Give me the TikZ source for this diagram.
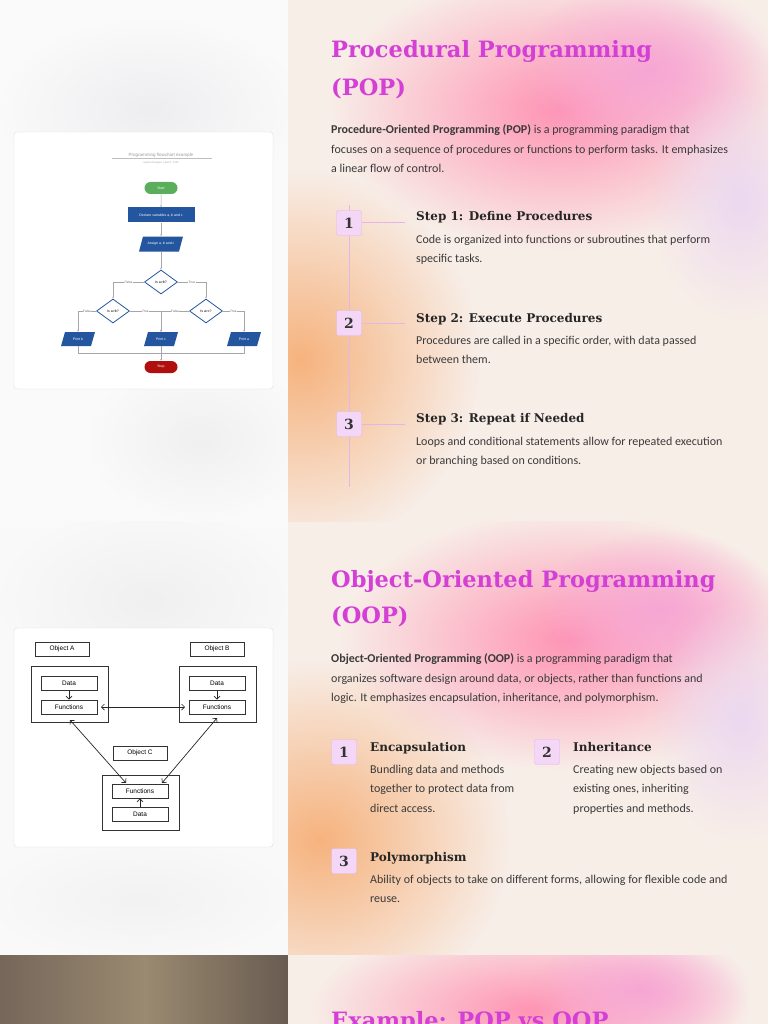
\documentclass[tikz,border=0pt]{standalone}
\usepackage{fontspec}
\setmainfont{Carlito}
\newfontfamily\hd{DejaVu Serif}
\newfontfamily\fl{Liberation Sans}
\usetikzlibrary{fadings,shapes.geometric,shapes.misc,arrows.meta}
\tikzfading[name=softblob, inner color=transparent!0, outer color=transparent!100]
\definecolor{bgc}{HTML}{F8EEE8}
\definecolor{blobpink}{HTML}{FF94B4}
\definecolor{blobmag}{HTML}{F7A6D4}
\definecolor{bloborange}{HTML}{F6B37E}
\definecolor{bloblav}{HTML}{ECD8F0}
\definecolor{ttl}{HTML}{D43FD6}
\definecolor{txt}{HTML}{3A3A3A}
\definecolor{numfill}{HTML}{F4D7F6}
\definecolor{numdraw}{HTML}{E3B5E8}
\definecolor{fblue}{HTML}{23569E}
\definecolor{fgreen}{HTML}{5BAE5B}
\definecolor{fred}{HTML}{B10E0E}
\definecolor{brA}{HTML}{75665A}
\definecolor{brB}{HTML}{9A8A70}
\tikzset{
 blob/.style={fill=#1, path fading=softblob},
 title/.style={anchor=base west, inner sep=0, text=ttl, font=\hd\bfseries\fontsize{22.5}{26}\selectfont},
 para/.style={anchor=north west, inner sep=0, text=txt, font=\fontsize{12}{19.5}\selectfont, align=left},
 stt/.style={anchor=base west, inner sep=0, text=black!85, font=\hd\bfseries\fontsize{12}{14}\selectfont},
 num/.style={draw=numdraw, fill=numfill, rounded corners=2pt, minimum size=25pt, inner sep=0, font=\hd\bfseries\fontsize{14}{16}\selectfont, text=black!80},
 tl/.style={draw=numdraw, line width=1pt},
 fbox/.style={draw=none, fill=fblue, text=white, font=\fl\fontsize{3.5}{4}\selectfont, inner sep=0},
 ftxt/.style={text=white, font=\fl\fontsize{3.5}{4}\selectfont, inner sep=0},
 fline/.style={draw=gray!70, line width=0.5pt, -{Stealth[length=2pt]}},
 flab/.style={font=\fl\fontsize{3.2}{4}\selectfont, text=gray!80!black, fill=white, inner sep=0.5pt},
 obox/.style={draw=black!80, line width=0.7pt, font=\fl\fontsize{6.5}{8}\selectfont, inner sep=0},
 oarr/.style={draw=black!85, line width=0.7pt, {Straight Barb[length=3pt]}-{Straight Barb[length=3pt]}},
}
% parallelogram fill: centre x, centre y, half width, half height
\newcommand\pgram[4]{\fill[fblue] (#1-#3-2,#2+#4) -- (#1+#3-2,#2+#4) -- (#1+#3+2,#2-#4) -- (#1-#3+2,#2-#4) -- cycle;}
\begin{document}
\begin{tikzpicture}[x=1pt,y=-1pt]
\useasboundingbox (0,0) rectangle (768,1024);
% ---------- backgrounds
\fill[white!96!gray] (0,0) rectangle (288,521);
\fill[white!95!gray] (0,521) rectangle (288,955);
\fill[bgc] (288,0) rectangle (768,955);
\begin{scope}
\clip (0,0) rectangle (288,521);
\fill[blob=blue!10!gray!12] (150,110) ellipse (150 and 90);
\fill[blob=gray!12] (200,440) ellipse (110 and 80);
\end{scope}
\begin{scope}
\clip (0,521) rectangle (288,955);
\fill[blob=gray!12] (150,600) ellipse (150 and 90);
\fill[blob=gray!10] (140,900) ellipse (150 and 60);
\end{scope}
\begin{scope}
\clip (288,0) rectangle (768,521);
\fill[blob=bloborange] (300,360) ellipse (180 and 190);
\fill[blob=blobpink] (560,110) ellipse (230 and 140);
\fill[blob=blobmag] (650,70) ellipse (130 and 90);
\fill[blob=bloblav] (740,200) ellipse (90 and 120);
\end{scope}
\begin{scope}
\clip (288,521) rectangle (768,955);
\fill[blob=bloborange] (320,840) ellipse (190 and 180);
\fill[blob=blobpink] (570,640) ellipse (230 and 130);
\fill[blob=blobmag] (660,610) ellipse (120 and 80);
\fill[blob=bloblav] (740,720) ellipse (90 and 120);
\end{scope}
\shade[left color=brA, right color=brA!90!black, middle color=brB] (0,955) rectangle (288,1024);
\begin{scope}
\clip (288,955) rectangle (768,1024);
\fill[bgc] (288,955) rectangle (768,1024);
\fill[blob=blobpink] (530,1010) ellipse (220 and 90);
\fill[blob=blobmag] (640,990) ellipse (110 and 60);
\end{scope}

% ---------- section 1 text
\node[title] (t1a) at (331,58) {Procedural Programming};
\node[title] (t1b) at (331,96) {(POP)};
\node[para] (p1) at (331,124.5) {\textbf{Procedure-Oriented Programming (POP)} is a programming paradigm that\\focuses on a sequence of procedures or functions to perform tasks. It emphasizes\\a linear flow of control.};
\coordinate (tlA) at (349,205);
\coordinate (tlB) at (349,487);
\draw[tl] (tlA) -- (tlB);
\node[num] (n1) at (349,223) {1};
\node[num] (n2) at (349,323) {2};
\node[num] (n3) at (349,424) {3};
\coordinate (h1) at (405,223);\coordinate (h2) at (405,323);\coordinate (h3) at (405,424);
\draw[tl] (n1.east) -- (h1); \draw[tl] (n2.east) -- (h2); \draw[tl] (n3.east) -- (h3);
\node[stt] (s1) at (416,221) {Step 1: Define Procedures};
\node[para] (d1) at (416,234.5) {Code is organized into functions or subroutines that perform\\specific tasks.};
\node[stt] (s2) at (416,322) {Step 2: Execute Procedures};
\node[para] (d2) at (416,335.5) {Procedures are called in a specific order, with data passed\\between them.};
\node[stt] (s3) at (416,422) {Step 3: Repeat if Needed};
\node[para] (d3) at (416,436.5) {Loops and conditional statements allow for repeated execution\\or branching based on conditions.};

% ---------- flowchart card
\node[draw=gray!25, fill=white, rounded corners=3pt, minimum width=259pt, minimum height=257pt, inner sep=0] (card1) at (143.5,260.5) {};
\node[font=\fl\fontsize{4.5}{5}\selectfont, text=gray!80] (ftitle) at (161,155) {Programming flowchart example};
\draw[gray!50, line width=0.4pt] (112,158.5) -- (212,158.5);
\node[font=\fl\fontsize{2.5}{3}\selectfont, text=gray!70] (fsub) at (161,162.5) {System Designer \textbar\ April 1, 2024};
\node[fbox, fill=fgreen, rounded rectangle, minimum width=33pt, minimum height=12pt] (start) at (161,188) {Start};
\node[fbox, minimum width=67pt, minimum height=15pt] (decl) at (161,215) {Declare variables a, b and c};
\pgram{161}{244}{20}{7.5}
\node[ftxt, minimum width=40pt, minimum height=15pt] (assign) at (161,244) {Assign a, b and c};
\node[diamond, draw=fblue, line width=0.8pt, fill=white, minimum width=33pt, minimum height=24pt, inner sep=0, font=\fl\fontsize{3.5}{4}\selectfont] (d0) at (161,282) {Is a>b?};
\node[diamond, draw=fblue, line width=0.8pt, fill=white, minimum width=33pt, minimum height=24pt, inner sep=0, font=\fl\fontsize{3.5}{4}\selectfont] (dl) at (113,311) {Is a>b?};
\node[diamond, draw=fblue, line width=0.8pt, fill=white, minimum width=33pt, minimum height=24pt, inner sep=0, font=\fl\fontsize{3.5}{4}\selectfont] (dr) at (206,311) {Is a>c?};
\pgram{78}{339}{15}{7}
\pgram{161}{339}{15}{7}
\pgram{244}{339}{15}{7}
\node[ftxt, minimum width=30pt, minimum height=14pt] (pb) at (78,339) {Print b};
\node[ftxt, minimum width=30pt, minimum height=14pt] (pc) at (161,339) {Print c};
\node[ftxt, minimum width=30pt, minimum height=14pt] (pa) at (244,339) {Print a};
\node[fbox, fill=fred, rounded rectangle, minimum width=33pt, minimum height=12pt] (stop) at (161,367) {Stop};
\draw[fline] (start) -- (decl);
\draw[fline] (decl) -- (assign);
\draw[fline] (assign) -- (d0);
\draw[fline] (d0.west) -| node[flab, pos=0.25]{False} (dl.north);
\draw[fline] (d0.east) -| node[flab, pos=0.25]{True} (dr.north);
\draw[fline] (dl.west) -| node[flab, pos=0.25]{False} (pb.north);
\draw[fline] (dl.east) -| node[flab, pos=0.25]{True} (pc.north);
\draw[fline] (dr.west) -| node[flab, pos=0.25]{False} (pc.north);
\draw[fline] (dr.east) -| node[flab, pos=0.25]{True} (pa.north);
\coordinate (jn) at (161,353);
\draw[gray!70, line width=0.5pt] (pb.south) |- (jn);
\draw[gray!70, line width=0.5pt] (pa.south) |- (jn);
\draw[fline] (pc.south) -- (stop.north);

% ---------- section 2 text
\node[title] (t2a) at (331,587) {Object-Oriented Programming};
\node[title] (t2b) at (331,623) {(OOP)};
\node[para] (p2) at (331,653.5) {\textbf{Object-Oriented Programming (OOP)} is a programming paradigm that\\organizes software design around data, or objects, rather than functions and\\logic. It emphasizes encapsulation, inheritance, and polymorphism.};
\node[num] (m1) at (344,752) {1};
\node[num] (m2) at (547,752) {2};
\node[num] (m3) at (344,861) {3};
\node[stt] (e1) at (370,751) {Encapsulation};
\node[para] (f1) at (370,764.5) {Bundling data and methods\\together to protect data from\\direct access.};
\node[stt] (e2) at (573,751) {Inheritance};
\node[para] (f2) at (573,764.5) {Creating new objects based on\\existing ones, inheriting\\properties and methods.};
\node[stt] (e3) at (370,861) {Polymorphism};
\node[para] (f3) at (370,874.5) {Ability of objects to take on different forms, allowing for flexible code and\\reuse.};

% ---------- OOP card
\node[draw=gray!25, fill=white, rounded corners=3pt, minimum width=259pt, minimum height=219pt, inner sep=0] (card2) at (143.5,737.5) {};
\node[obox, minimum width=54pt, minimum height=14pt] (oa) at (62,649) {Object A};
\node[obox, minimum width=54pt, minimum height=14pt] (ob) at (217,649) {Object B};
\node[obox, minimum width=77pt, minimum height=56pt] (bxa) at (69.5,694) {};
\node[obox, minimum width=77pt, minimum height=56pt] (bxb) at (217.5,694) {};
\node[obox, minimum width=56pt, minimum height=14pt] (da) at (69,683) {Data};
\node[obox, minimum width=56pt, minimum height=14pt] (fa) at (69,707) {Functions};
\node[obox, minimum width=56pt, minimum height=14pt] (db) at (217,683) {Data};
\node[obox, minimum width=56pt, minimum height=14pt] (fb) at (217,707) {Functions};
\node[obox, minimum width=54pt, minimum height=14pt] (oc) at (140,753) {Object C};
\node[obox, minimum width=77pt, minimum height=55pt] (bxc) at (140.5,802.5) {};
\node[obox, minimum width=56pt, minimum height=14pt] (fc) at (140,791) {Functions};
\node[obox, minimum width=56pt, minimum height=14pt] (dc) at (140,814) {Data};
\draw[black!85, line width=0.7pt, -{Straight Barb[length=3pt]}] (da) -- (fa);
\draw[black!85, line width=0.7pt, -{Straight Barb[length=3pt]}] (db) -- (fb);
\draw[black!85, line width=0.7pt, -{Straight Barb[length=3pt]}] (dc) -- (fc);
\coordinate (fa1) at (101,707);\coordinate (fb1) at (185,707);
\draw[oarr] (fa1) -- (fb1);
\coordinate (ad) at (70,720);\coordinate (cd1) at (126,783);
\coordinate (bd) at (217,718);\coordinate (cd2) at (162,783);
\draw[oarr] (ad) -- (cd1);
\draw[oarr] (bd) -- (cd2);

% ---------- section 3 title (partially visible)
\node[title] (t3) at (331,1028) {Example: POP vs OOP};
\end{tikzpicture}
\end{document}
